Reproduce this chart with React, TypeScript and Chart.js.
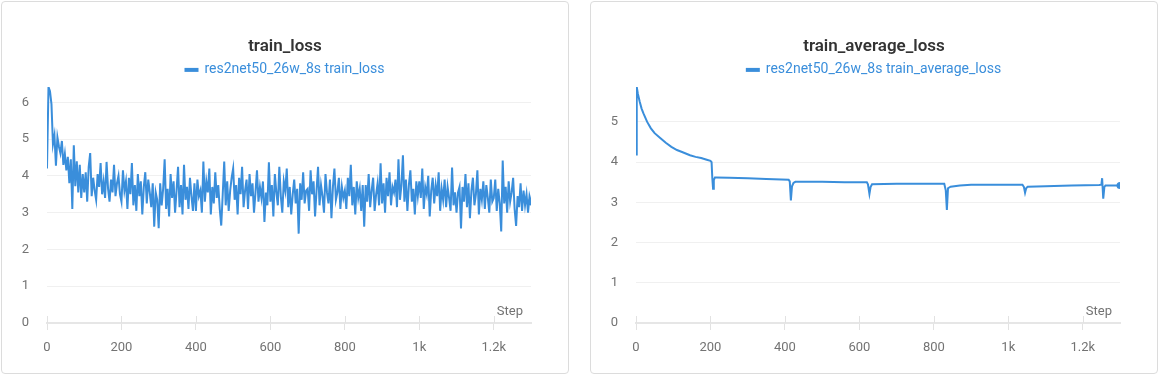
import React, { useEffect, useRef } from "react";
import { Chart, registerables } from "chart.js";

Chart.register(...registerables);

// ---------- data ----------
const LOSS_LOG_EVERY = 4; // train_loss logged every 4 steps (0 .. 1300)

const TRAIN_LOSS: number[] = [
  // 0 - 96
  4.2, 6.42, 6.3, 5.95, 4.86, 5.1, 4.28, 5.05, 4.8, 4.62, 4.95, 4.3, 4.6, 4.15, 4.52, 3.8, 4.45, 3.1, 4.83, 3.72, 4.4, 3.55, 4.3, 3.4, 4.05,
  // 100 - 196
  3.55, 4.1, 3.3, 4.25, 4.62, 3.45, 3.95, 3.6, 3.35, 4.05, 3.7, 4.35, 3.5, 3.85, 3.4, 4.38, 3.65, 3.3, 3.9, 3.55, 4.3, 3.45, 3.8, 4.0, 3.5,
  // 200 - 296
  3.3, 4.15, 3.6, 3.85, 3.1, 3.95, 3.5, 4.35, 3.2, 3.75, 3.05, 4.05, 3.45, 3.85, 2.95, 3.7, 4.1, 3.25, 3.9, 3.55, 3.15, 3.8, 2.62, 3.55, 3.35,
  // 300 - 396
  2.58, 3.8, 3.2, 3.65, 4.45, 3.1, 3.65, 2.9, 4.05, 3.4, 3.85, 3.0, 3.6, 4.25, 3.15, 3.75, 2.95, 4.3, 3.35, 3.7, 3.1, 3.95, 3.45, 3.05, 3.8,
  // 400 - 496
  3.05, 3.9, 3.45, 3.6, 3.0, 4.39, 3.3, 3.85, 3.55, 4.2, 2.95, 3.7, 3.25, 4.1, 3.4, 3.75, 3.1, 2.65, 3.5, 4.39, 3.2, 3.85, 3.05, 3.6, 3.95,
  // 500 - 596
  4.2, 3.35, 3.75, 2.95, 3.95, 3.5, 4.25, 3.15, 3.6, 3.9, 3.1, 4.05, 3.45, 3.8, 3.0, 3.55, 4.15, 3.3, 3.7, 3.4, 3.85, 2.75, 3.55, 3.2, 4.37,
  // 600 - 696
  3.3, 3.75, 2.9, 4.05, 3.55, 3.2, 4.25, 3.45, 3.0, 3.85, 3.6, 4.2, 3.15, 3.7, 2.95, 3.5, 3.9, 3.25, 3.65, 2.43, 3.8, 3.35, 4.1, 3.25, 3.6,
  // 700 - 796
  3.65, 3.05, 4.15, 3.5, 3.85, 2.9, 3.6, 4.25, 3.2, 3.75, 3.45, 3.0, 4.05, 3.55, 3.25, 3.9, 2.85, 3.7, 4.2, 3.35, 3.55, 3.95, 3.1, 3.7, 3.4,
  // 800 - 896
  3.6, 3.1, 3.95, 3.45, 4.3, 3.2, 3.7, 2.95, 3.85, 3.4, 3.65, 3.05, 3.75, 2.62, 3.75, 3.3, 4.05, 3.15, 3.6, 3.95, 3.05, 3.5, 3.8, 3.2, 4.34,
  // 900 - 996
  3.25, 3.8, 3.0, 3.95, 3.45, 4.1, 3.2, 3.7, 3.55, 3.9, 3.15, 4.45, 3.35, 3.75, 4.56, 3.3, 3.9, 3.05, 3.75, 4.15, 3.3, 3.65, 2.95, 3.85, 3.45,
  // 1000 - 1096
  3.85, 3.4, 4.2, 3.1, 3.7, 3.5, 4.0, 2.9, 3.6, 3.95, 3.25, 3.75, 3.45, 4.1, 3.05, 3.65, 3.35, 3.9, 3.15, 3.7, 3.4, 3.05, 4.23, 3.2, 3.55,
  // 1100 - 1196
  3.0, 3.55, 3.7, 2.57, 3.7, 3.3, 4.05, 3.15, 3.8, 2.85, 3.6, 3.95, 3.2, 3.5, 4.15, 2.95, 3.65, 3.35, 3.85, 3.1, 3.75, 3.4, 3.0, 3.9, 3.3,
  // 1200 - 1296
  3.4, 3.9, 3.05, 3.65, 3.25, 2.49, 4.42, 3.25, 3.7, 3.0, 3.85, 3.3, 3.55, 3.95, 3.1, 2.64, 3.45, 3.15, 3.8, 3.05, 3.6, 3.2, 3.5, 3.0, 3.45,
  // 1300
  3.29,
];

const AVG_STEPS: number[] = [
  0, 2, 5, 10, 15, 20, 30, 40, 50, 65, 80, 95, 110, 127, 145, 160, 175, 190, 200, 203,
  205, 207, 209, 212, 215, 250, 300, 350, 410, 413, 416, 419, 423, 428, 500, 560, 620, 623, 627, 630,
  634, 700, 780, 828, 832, 835, 838, 845, 870, 900, 960, 1038, 1042, 1045, 1048, 1052, 1100, 1170, 1244, 1250,
  1252, 1255, 1258, 1261, 1300,
];
const AVG_LOSS: number[] = [
  4.19, 5.87, 5.7, 5.5, 5.33, 5.21, 5.0, 4.84, 4.72, 4.6, 4.48, 4.38, 4.3, 4.24, 4.17, 4.13, 4.1, 4.06, 4.03, 4.0,
  3.6, 3.34, 3.55, 3.62, 3.62, 3.61, 3.6, 3.58, 3.56, 3.52, 3.05, 3.4, 3.48, 3.51, 3.51, 3.5, 3.5, 3.45, 3.21, 3.38,
  3.45, 3.46, 3.46, 3.46, 3.3, 2.81, 3.35, 3.39, 3.42, 3.44, 3.44, 3.44, 3.38, 3.24, 3.35, 3.39, 3.4, 3.42, 3.43, 3.44,
  3.6, 3.09, 3.38, 3.42, 3.42,
];

const LOSS_STEPS: number[] = TRAIN_LOSS.map((_, i) => i * LOSS_LOG_EVERY);

const X_TICK_STEP = 200;
const X_AXIS_LABEL = "Step";

// ---------- styles ----------
const BLUE = "#3a8edb";
const TICK_COLOR = "#737373";
const FONT = "Roboto, 'Noto Sans', sans-serif";

function fmtStep(v: number): string {
  if (v >= 1000) return `${+(v / 1000).toFixed(1)}k`;
  return String(v);
}

const axisDecor = {
  id: "axisDecor",
  afterDraw(chart: any) {
    const { ctx, chartArea, scales } = chart;
    const xs = scales.x;
    ctx.save();
    ctx.strokeStyle = "#e2e2e2";
    ctx.lineWidth = 1;
    xs.ticks.forEach((t: any) => {
      const px = Math.round(xs.getPixelForValue(t.value)) + 0.5;
      ctx.beginPath();
      ctx.moveTo(px, chartArea.bottom - 7);
      ctx.lineTo(px, chartArea.bottom);
      ctx.stroke();
    });
    ctx.fillStyle = TICK_COLOR;
    ctx.font = `13px ${FONT}`;
    ctx.textAlign = "right";
    ctx.textBaseline = "middle";
    ctx.fillText(X_AXIS_LABEL, chartArea.right - 8, chartArea.bottom - 11);
    ctx.restore();
  },
};

type CardProps = {
  left: number;
  title: string;
  legend: string;
  steps: number[];
  values: number[];
  lineWidth: number;
};

function LineCard({ left, title, legend, steps, values, lineWidth }: CardProps) {
  const ref = useRef<HTMLCanvasElement | null>(null);
  useEffect(() => {
    if (!ref.current) return;
    const points = values.map((v, i) => ({ x: steps[i], y: v }));
    const last = points.length - 1;
    const chart = new Chart(ref.current, {
      type: "line",
      data: {
        datasets: [
          {
            label: legend,
            data: points,
            borderColor: BLUE,
            backgroundColor: BLUE,
            borderWidth: lineWidth,
            tension: 0,
            pointRadius: (c: any) => (c.dataIndex === last ? 3.5 : 0),
            pointBorderWidth: 0,
            pointBackgroundColor: BLUE,
          },
        ],
      },
      options: {
        animation: false,
        responsive: false,
        devicePixelRatio: 1,
        events: [],
        layout: { padding: { left: 0, right: 0, top: 0, bottom: 20 } },
        font: { family: FONT },
        plugins: {
          title: {
            display: true,
            text: title,
            color: "#333333",
            font: { family: FONT, size: 17, weight: "600" },
            padding: { top: 34.5, bottom: 0 },
          },
          legend: {
            display: true,
            labels: {
              boxWidth: 12,
              boxHeight: 2,
              padding: 6,
              color: BLUE,
              font: { family: FONT, size: 14 },
            },
          },
          tooltip: { enabled: false },
        },
        scales: {
          x: {
            type: "linear",
            min: 0,
            max: steps[steps.length - 1],
            afterBuildTicks: (s: any) => {
              const ticks: any[] = [];
              for (let v = s.min; v <= s.max; v += X_TICK_STEP) ticks.push({ value: v });
              s.ticks = ticks;
            },
            afterFit: (s: any) => {
              s.height = 30;
            },
            ticks: {
              stepSize: X_TICK_STEP,
              padding: 10,
              autoSkip: false,
              maxRotation: 0,
              color: TICK_COLOR,
              font: { family: FONT, size: 13 },
              callback: (v: any) => fmtStep(Number(v)),
            },
            grid: { drawOnChartArea: false, drawTicks: true, tickLength: 7, color: "#e2e2e2" },
            border: { display: true, color: "#e6e6e6", width: 2 },
          },
          y: {
            type: "linear",
            position: "left",
            min: 0,
            max: Math.max(...values),
            afterBuildTicks: (s: any) => {
              s.ticks = s.ticks.filter((t: any) => Number.isInteger(t.value));
            },
            afterFit: (s: any) => {
              s.width = 45;
            },
            ticks: {
              stepSize: 1,
              padding: 18,
              color: TICK_COLOR,
              font: { family: FONT, size: 13 },
            },
            grid: { color: "#f0f0f0", drawTicks: false },
            border: { display: false },
          },
          rightGutter: {
            type: "linear",
            position: "right",
            display: true,
            min: 0,
            max: 1,
            ticks: { display: false },
            grid: { display: false, drawTicks: false },
            border: { display: false },
            afterFit: (s: any) => {
              s.width = 37;
            },
          },
        },
      },
      plugins: [axisDecor],
    } as any);
    return () => chart.destroy();
  }, []);

  return (
    <div
      style={{
        position: "absolute",
        left,
        top: 1,
        width: 568,
        height: 373,
        boxSizing: "border-box",
        border: "1px solid #dcdcdc",
        borderRadius: 4,
        background: "#ffffff",
        overflow: "hidden",
      }}
    >
      <canvas ref={ref} width={566} height={371} style={{ display: "block" }} />
    </div>
  );
}

export default function App() {
  return (
    <div style={{ position: "relative", width: 1162, height: 378, background: "#ffffff" }}>
      <style>{`body{margin:0;background:#ffffff;}`}</style>
      <LineCard
        left={1}
        title="train_loss"
        legend="res2net50_26w_8s train_loss"
        steps={LOSS_STEPS}
        values={TRAIN_LOSS}
        lineWidth={2}
      />
      <LineCard
        left={590}
        title="train_average_loss"
        legend="res2net50_26w_8s train_average_loss"
        steps={AVG_STEPS}
        values={AVG_LOSS}
        lineWidth={2}
      />
    </div>
  );
}
